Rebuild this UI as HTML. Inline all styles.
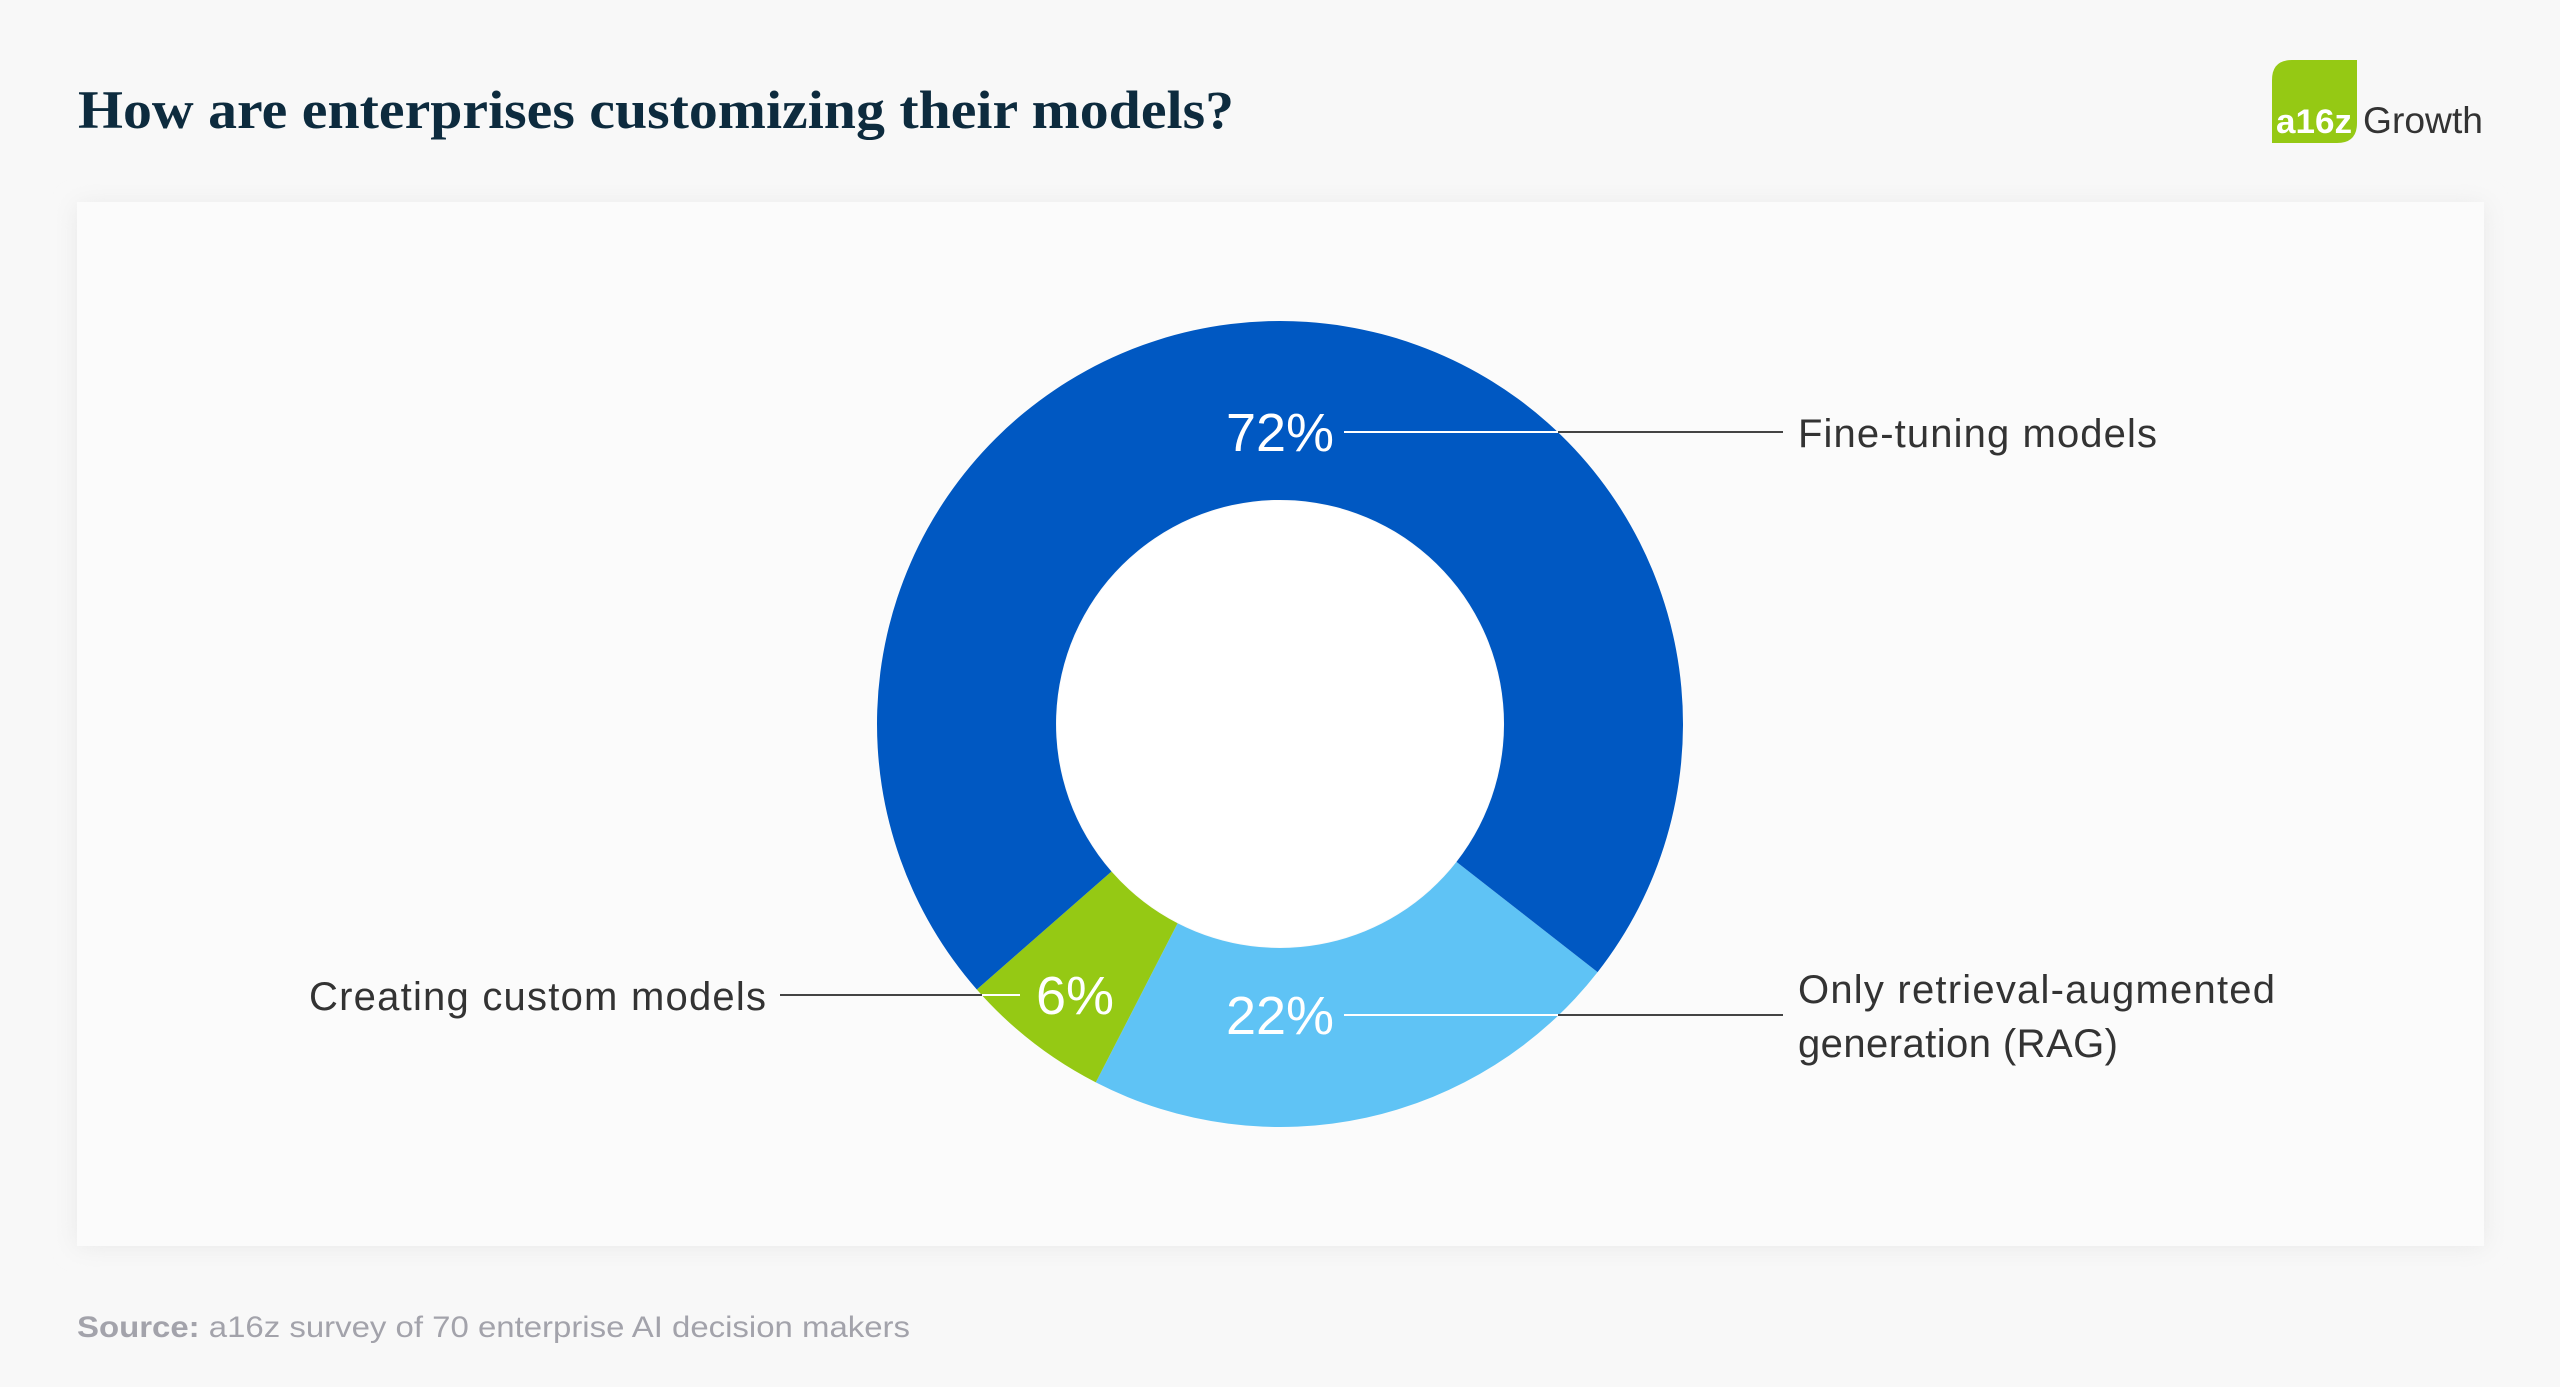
<!DOCTYPE html>
<html><head><meta charset="utf-8"><style>
html,body{margin:0;padding:0;background:#f8f8f8;}
body{width:2560px;height:1387px;overflow:hidden;position:relative;}
</style></head><body>
<svg width="2560" height="1387" viewBox="0 0 2560 1387" xmlns="http://www.w3.org/2000/svg" style="position:absolute;left:0;top:0">
<defs><filter id="sh" x="-5%" y="-5%" width="110%" height="110%"><feGaussianBlur stdDeviation="12"/></filter></defs>
<rect width="2560" height="1387" fill="#f8f8f8"/>
<rect x="77" y="205" width="2407" height="1041" fill="#e8e8e8" filter="url(#sh)"/>
<rect x="77" y="202" width="2407" height="1044" fill="#fbfbfb"/>
<text x="78" y="128" font-family="Liberation Serif, serif" font-weight="bold" font-size="54" fill="#0d2b3e" textLength="1156" lengthAdjust="spacingAndGlyphs">How are enterprises customizing their models?</text>
<path d="M2292 60 H2357 V123 Q2357 143 2337 143 H2272 V80 Q2272 60 2292 60 Z" fill="#95c914"/>
<text x="2276" y="133" font-family="Liberation Sans, sans-serif" font-weight="bold" font-size="34" fill="#fff" textLength="76" lengthAdjust="spacingAndGlyphs">a16z</text>
<text x="2363" y="133" font-family="Liberation Sans, sans-serif" font-size="37" fill="#333" textLength="120" lengthAdjust="spacingAndGlyphs">Growth</text>
<path d="M1597.6 972.1 A403 403 0 0 1 1095.8 1082.4 L1177.6 923.2 A224 224 0 0 0 1456.5 861.9 Z" fill="#5fc3f5"/>
<path d="M1095.8 1082.4 A403 403 0 0 1 976.8 989.5 L1111.5 871.5 A224 224 0 0 0 1177.6 923.2 Z" fill="#95c914"/>
<path d="M976.8 989.5 A403 403 0 1 1 1597.6 972.1 L1456.5 861.9 A224 224 0 1 0 1111.5 871.5 Z" fill="#0058c2"/>
<circle cx="1280" cy="724" r="223" fill="#fff"/>
<g stroke-width="2">
<line x1="1558" y1="432" x2="1783" y2="432" stroke="#444"/>
<line x1="1344" y1="432" x2="1558" y2="432" stroke="#fff"/>
<line x1="1558" y1="1015" x2="1783" y2="1015" stroke="#444"/>
<line x1="1344" y1="1015" x2="1558" y2="1015" stroke="#fff"/>
<line x1="780" y1="995" x2="982" y2="995" stroke="#444"/>
<line x1="982" y1="995" x2="1020" y2="995" stroke="#fff"/>
</g>
<g font-family="Liberation Sans, sans-serif" fill="#fff" font-size="54" text-anchor="middle">
<text x="1280" y="451">72%</text>
<text x="1280" y="1034">22%</text>
<text x="1075" y="1014">6%</text>
</g>
<g font-family="Liberation Sans, sans-serif" fill="#333" font-size="40" lengthAdjust="spacingAndGlyphs">
<text x="1798" y="447" textLength="359">Fine-tuning models</text>
<text x="1798" y="1003" textLength="477">Only retrieval-augmented</text>
<text x="1798" y="1057" textLength="320">generation (RAG)</text>
<text x="309" y="1010" textLength="457">Creating custom models</text>
</g>
<text x="77" y="1337" font-family="Liberation Sans, sans-serif" font-size="30" fill="#a3a3ab" textLength="833" lengthAdjust="spacingAndGlyphs"><tspan font-weight="bold">Source:</tspan> a16z survey of 70 enterprise AI decision makers</text>
</svg>
</body></html>
